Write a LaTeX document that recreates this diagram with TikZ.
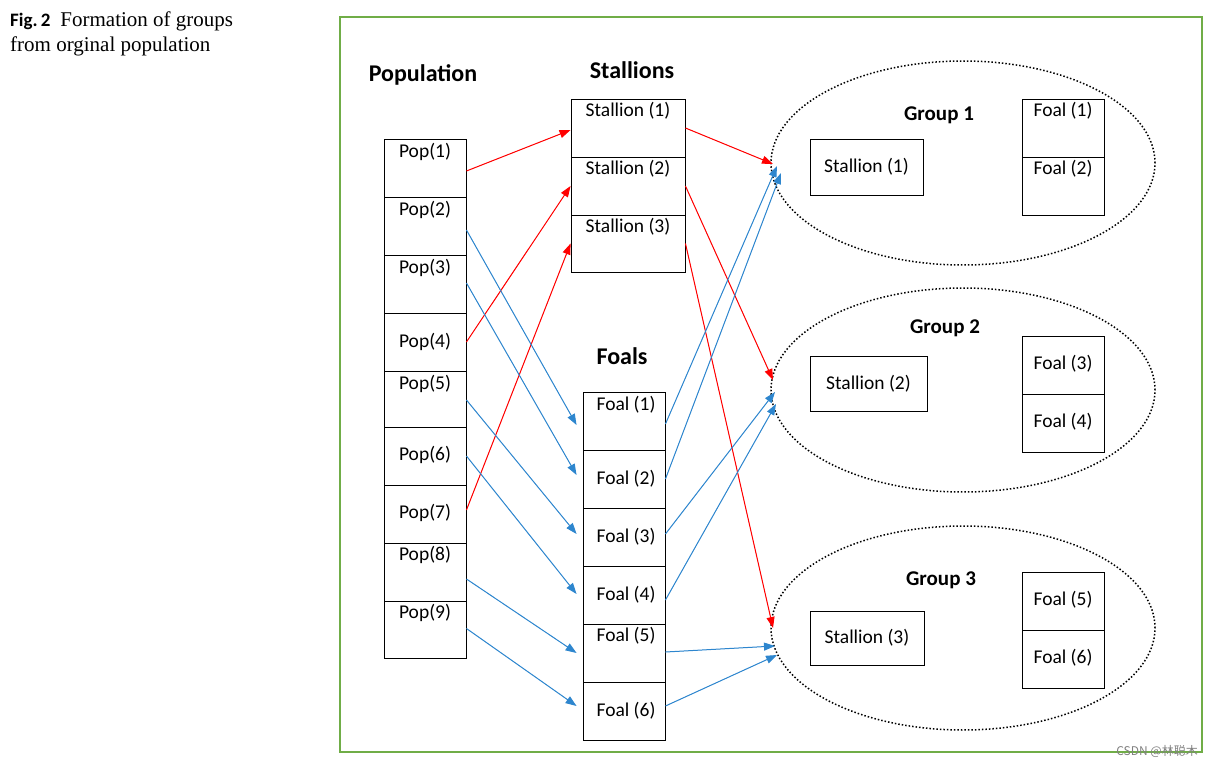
\documentclass[tikz,border=0pt]{standalone}
\usepackage{fontspec}
\setmainfont{Carlito}
\newfontfamily\capserif{Liberation Serif}
\newfontfamily\cjk{Noto Sans CJK SC}
\usetikzlibrary{arrows.meta,shapes.geometric}
\definecolor{frameg}{RGB}{112,173,71}
\definecolor{ablue}{RGB}{46,134,206}
\begin{document}
\begin{tikzpicture}[x=1pt,y=-1pt,
 box/.style={draw,line width=0.9pt,inner sep=0pt},
 lab/.style={font=\fontsize{19.5}{22}\selectfont,inner sep=0pt},
 ttl/.style={font=\fontsize{24}{26}\selectfont\bfseries,inner sep=0pt},
 gttl/.style={font=\fontsize{21}{24}\selectfont\bfseries,inner sep=0pt},
 grp/.style={ellipse,draw,dotted,line width=1.5pt,minimum width=384pt,minimum height=204pt,inner sep=0pt},
 ra/.style={draw=red,line width=1pt,-{Triangle[length=11pt,width=8pt]},fill=red},
 ba/.style={draw=ablue,line width=1pt,-{Triangle[length=11pt,width=8pt]},fill=ablue}]
\useasboundingbox (0,0) rectangle (1209,767);
% caption
\node[anchor=base west,inner sep=0pt,font=\fontsize{19}{21}\selectfont] (cap1) at (10,27) {\textbf{Fig.\,2}\hspace{10pt}{\capserif\fontsize{21}{23}\selectfont Formation of groups}};
\node[anchor=base west,inner sep=0pt,font=\fontsize{21}{23}\selectfont\capserif] (cap2) at (10,52) {from orginal population};
% frame
\draw[frameg,line width=1.4pt] (340,17) rectangle (1202,752);
% titles
\node[ttl] (tpop) at (423,75) {Population};
\node[ttl] (tstal) at (632,70) {Stallions};
\node[ttl] (tfoal) at (622,356) {Foals};
% population column
\foreach \i/\a/\b/\t in {1/139/197/143,2/197/255/201,3/255/313/259,4/313/371/333,5/371/427/375,6/427/485/446,7/485/543/504,8/543/601/546,9/601/658/604}{
 \node[box,minimum width=82pt,minimum height={\b-\a}] (p\i) at (425,{(\a+\b)/2}) {};
 \node[lab,anchor=north] (pt\i) at (425,\t) {Pop(\i)};
}
% stallions
\foreach \i/\a/\b in {1/99/157,2/157/215,3/215/272}{
 \node[box,minimum width=114pt,minimum height={\b-\a}] (s\i) at (628,{(\a+\b)/2}) {};
 \node[lab,anchor=north] (st\i) at (628,{\a+3}) {Stallion (\i)};
}
% foals
\foreach \i/\a/\b/\t in {1/392/450/396,2/450/508/470,3/508/566/528,4/566/624/586,5/624/682/627,6/682/740/702}{
 \node[box,minimum width=82pt,minimum height={\b-\a}] (f\i) at (624,{(\a+\b)/2}) {};
 \node[lab,anchor=north] (ft\i) at (626,\t) {Foal (\i)};
}
% groups
\node[grp] (g1) at (963,163) {};
\node[grp] (g2) at (963,390) {};
\node[grp] (g3) at (963,628) {};
\node[gttl] (g1t) at (939,115) {Group 1};
\node[gttl] (g2t) at (945,328) {Group 2};
\node[gttl] (g3t) at (941,580) {Group 3};
\node[box,lab,minimum width=113pt,minimum height=56pt,draw] (gs1) at (866.5,167) {Stallion (1)};
\node[box,lab,minimum width=117pt,minimum height=55pt,draw] (gs2) at (868.5,383.5) {Stallion (2)};
\node[box,lab,minimum width=114pt,minimum height=54pt,draw] (gs3) at (867,638) {Stallion (3)};
\foreach \n/\k/\a/\b/\t in {1/1/99/157/102,2/2/157/215/160,3/3/336/394/355,4/4/394/452/413,5/5/572/630/591,6/6/630/688/649}{
 \node[box,minimum width=82pt,minimum height={\b-\a}] (gf\n) at (1063,{(\a+\b)/2}) {};
 \node[lab,anchor=north] (gft\n) at (1063,\t) {Foal (\k)};
}
% target coordinates on ellipses
\coordinate (e1a) at (773,164);
\coordinate (e1b) at (777,166);
\coordinate (e1c) at (781,173);
\coordinate (e2a) at (773,380);
\coordinate (e2b) at (775,392);
\coordinate (e2c) at (776,404);
\coordinate (e3a) at (773,628);
\coordinate (e3b) at (775,646);
\coordinate (e3c) at (777,655);
% red arrows
\draw[ra] ([yshift=-3pt]p1.east) -- ([yshift=-2pt]s1.west);
\draw[ra] (p4.east) -- (s2.west);
\draw[ra] ([yshift=4pt]p7.east) -- (s3.west);
\draw[ra] (s1.east) -- (e1a);
\draw[ra] (s2.east) -- (e2a);
\draw[ra] (s3.east) -- (e3a);
% blue arrows population -> foals
\draw[ba] ([yshift=-4pt]p2.east) -- ([xshift=-6pt,yshift=-4pt]f1.west);
\draw[ba] ([yshift=1pt]p3.east) -- ([xshift=-6pt,yshift=4pt]f2.west);
\draw[ba] ([yshift=-1pt]p5.east) -- ([xshift=-6pt,yshift=3pt]f3.west);
\draw[ba] (p6.east) -- ([xshift=-6pt,yshift=1pt]f4.west);
\draw[ba] ([yshift=-7pt]p8.east) -- ([xshift=-6pt]f5.west);
\draw[ba] ([yshift=1pt]p9.east) -- ([xshift=-6pt,yshift=5pt]f6.west);
% blue arrows foals -> groups
\draw[ba] ([yshift=-3pt]f1.east) -- (e1b);
\draw[ba] (f2.east) -- (e1c);
\draw[ba] ([yshift=3pt]f3.east) -- (e2b);
\draw[ba] ([yshift=-5pt]f4.east) -- (e2c);
\draw[ba] ([yshift=1pt]f5.east) -- (e3b);
\draw[ba] ([yshift=5pt]f6.east) -- (e3c);
% watermark
\node[anchor=east,inner sep=0pt,text=gray,font=\fontsize{12}{14}\selectfont\cjk] (wm) at (1198,751) {CSDN @林聪木};
\end{tikzpicture}
\end{document}
